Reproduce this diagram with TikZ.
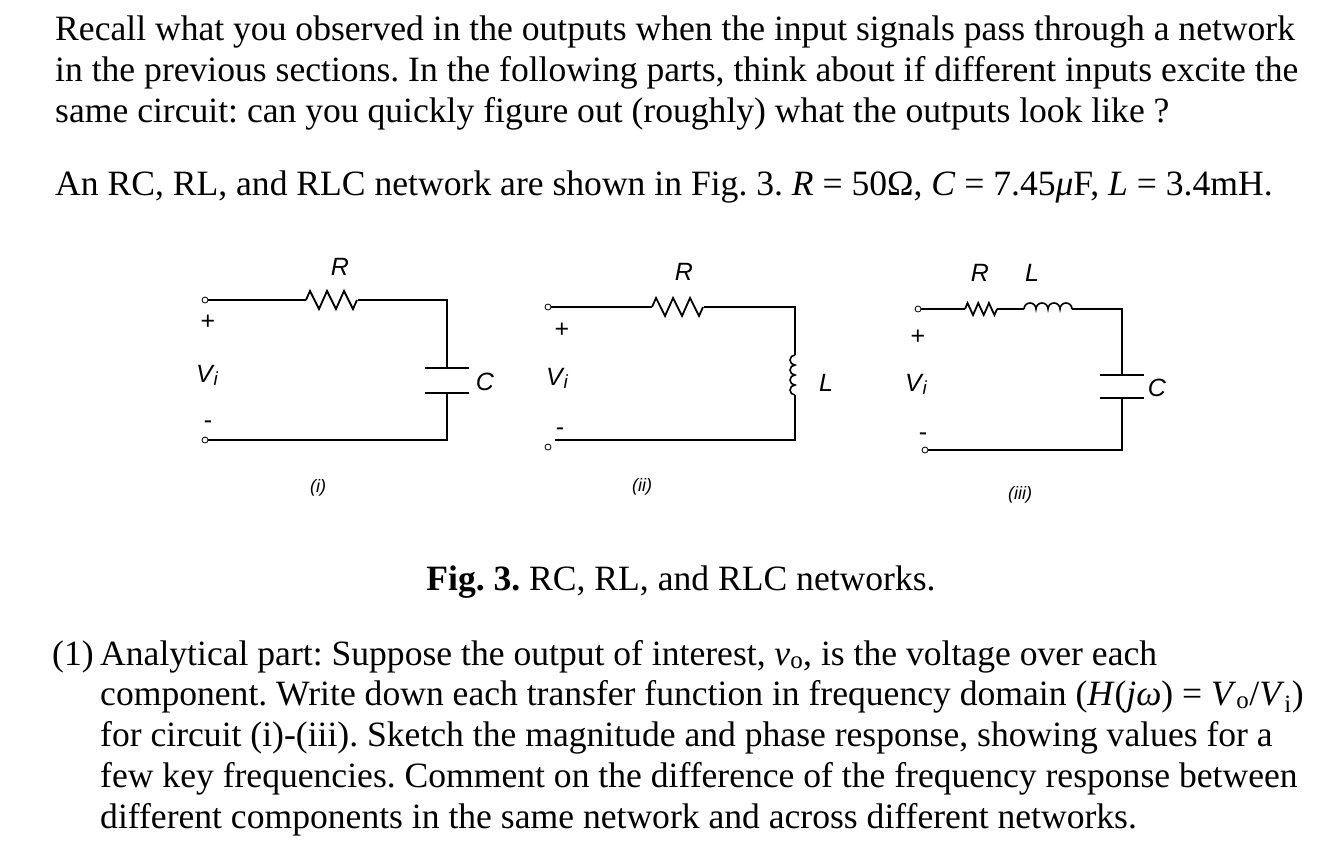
\documentclass[tikz,border=0pt]{standalone}
\usepackage{fontspec}
\setmainfont{Liberation Serif}
\newfontfamily\circfont{Liberation Sans}
\begin{document}
\frenchspacing
\begin{tikzpicture}[x=1pt,y=-1pt,
    txt/.style={anchor=base west,inner sep=0pt,font=\fontsize{35.6}{40}\selectfont},
    lbl/.style={inner sep=0pt,font=\circfont\fontsize{25}{28}\selectfont},
    wire/.style={line width=1.3pt},
    term/.style={circle,draw,inner sep=0pt,minimum size=6pt,line width=0.8pt}]
  \useasboundingbox (0,0) rectangle (1337,844);
  % text above
  \node[txt] (l1) at (55,40) {Recall what you observed in the outputs when the input signals pass through a network};
  \node[txt] (l2) at (55,81) {in the previous sections. In the following parts, think about if different inputs excite the};
  \node[txt] (l3) at (55,122) {same circuit: can you quickly figure out (roughly) what the outputs look like ?};
  \node[txt] (l4) at (55,195) {An RC, RL, and RLC network are shown in Fig. 3. \textit{R} = 50Ω, \textit{C} = 7.45\textit{μ}F, \textit{L} = 3.4mH.};
  % circuit (i)
  \node[term] (a1) at (205,300) {};
  \node[term] (b1) at (205,440) {};
  \draw[wire] (a1) -- (268,300);
  \draw[line width=2.2pt] (268,300) -- (306,300) (358,300) -- (398,300);
  \draw[line width=1.8pt] (306,300) \foreach \k in {0,1,2} {-- ++(4,-9) -- ++(9,18) -- ++(4,-9)};
  \draw[wire] (398,300) -- (447,300) -- (447,368);
  \draw[line width=2.2pt] (425,368) -- (469,368) (425,393) -- (469,393);
  \draw[wire] (447,393) -- (447,440) -- (b1);
  \node[lbl] (r1) at (340,267) {\itshape R};
  \node[lbl] (c1) at (485,382) {\itshape C};
  \node[lbl] (p1) at (208,322) {+};
  \node[lbl] (v1) at (207,375) {\itshape V\kern1pt\raisebox{-3pt}{\fontsize{19}{20}\selectfont i}};
  \node[lbl] (m1) at (208,425) {-};
  \node[lbl] (n1) at (318,488) {\fontsize{18}{20}\selectfont\itshape (i)};
  % circuit (ii)
  \node[term] (a2) at (548,307) {};
  \node[term] (b2) at (548,447) {};
  \draw[wire] (a2) -- (615,307);
  \draw[line width=2.2pt] (615,307) -- (652,307) (704,307) -- (745,307);
  \draw[line width=1.8pt] (652,307) \foreach \k in {0,1,2} {-- ++(4,-9) -- ++(9,18) -- ++(4,-9)};
  \draw[wire] (745,307) -- (795,307) -- (795,355);
  \draw[line width=1.6pt] (795,355) \foreach \k in {0,1,2,3} {arc[start angle=270,end angle=90,radius=5]};
  \draw[wire] (795,395) -- (795,440) -- (555,440);
  \node[lbl] (r2) at (684,272) {\itshape R};
  \node[lbl] (c2) at (826,383) {\itshape L};
  \node[lbl] (p2) at (562,330) {+};
  \node[lbl] (v2) at (557,378) {\itshape V\kern1pt\raisebox{-3pt}{\fontsize{19}{20}\selectfont i}};
  \node[lbl] (m2) at (560,432) {-};
  \node[lbl] (n2) at (642,487) {\fontsize{18}{20}\selectfont\itshape (ii)};
  % circuit (iii)
  \node[term] (a3) at (918,309) {};
  \node[term] (b3) at (925,450) {};
  \draw[wire] (a3) -- (945,309);
  \draw[line width=2.2pt] (945,309) -- (965,309) (997,309) -- (1024,309);
  \draw[line width=1.8pt] (965,309) \foreach \k in {0,1,2} {-- ++(2.5,-6) -- ++(5.5,12) -- ++(2.7,-6)};
  \draw[line width=1.6pt] (1024,309) \foreach \k in {0,1,2,3} {arc[start angle=180,end angle=360,radius=6]};
  \draw[wire] (1072,309) -- (1122,309) -- (1122,375);
  \draw[line width=2.2pt] (1100,375) -- (1144,375) (1100,398) -- (1144,398);
  \draw[wire] (1122,398) -- (1122,450) -- (b3);
  \node[lbl] (r3) at (980,273) {\itshape R};
  \node[lbl] (l3c) at (1032,273) {\itshape L};
  \node[lbl] (c3) at (1157,388) {\itshape C};
  \node[lbl] (p3) at (918,337) {+};
  \node[lbl] (v3) at (916,384) {\itshape V\kern1pt\raisebox{-3pt}{\fontsize{19}{20}\selectfont i}};
  \node[lbl] (m3) at (923,437) {-};
  \node[lbl] (n3) at (1020,495) {\fontsize{18}{20}\selectfont\itshape (iii)};
  % caption and question
  \node[txt,anchor=base] (cap) at (681,590) {\textbf{Fig. 3.} RC, RL, and RLC networks.};
  \node[txt] (q0) at (52,665) {(1)};
  \node[txt] (q1) at (100,665) {Analytical part: Suppose the output of interest, \textit{v}\textsubscript{o}, is the voltage over each};
  \node[txt] (q2) at (100,705) {component. Write down each transfer function in frequency domain (\textit{H}(\textit{jω}) = \textit{V}\textsubscript{o}/\textit{V}\textsubscript{i})};
  \node[txt] (q3) at (100,746) {for circuit (i)-(iii). Sketch the magnitude and phase response, showing values for a};
  \node[txt] (q4) at (100,787) {few key frequencies. Comment on the difference of the frequency response between};
  \node[txt] (q5) at (100,828) {different components in the same network and across different networks.};
\end{tikzpicture}
\end{document}
